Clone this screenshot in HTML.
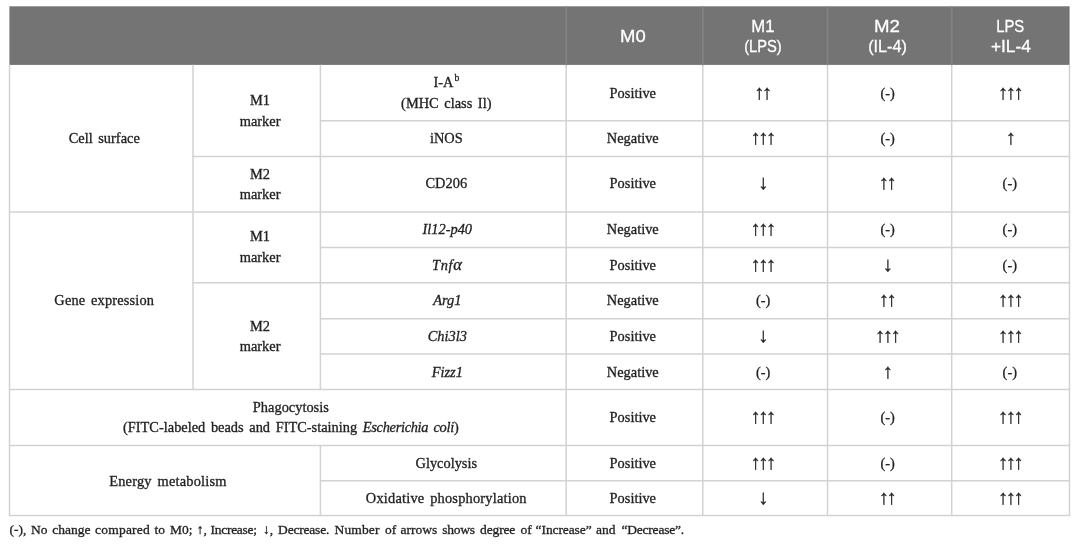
<!DOCTYPE html>
<html><head><meta charset="utf-8"><title>Table</title>
<style>
html,body{margin:0;padding:0;background:#fff}
body{width:1080px;height:547px;position:relative;overflow:hidden;font-family:"Liberation Serif","DejaVu Serif",serif;color:#222;font-size:14.4px;line-height:20.5px;word-spacing:2px;-webkit-text-stroke:0.3px #222}
.c{position:absolute;text-align:center;white-space:nowrap}
.h{font-family:"Liberation Sans","DejaVu Sans",sans-serif;color:#fff;font-size:17.2px;word-spacing:0;-webkit-text-stroke:0.3px #fff}
.h em{font-style:normal;display:inline-block}
.a{font-size:20.5px;letter-spacing:-2.5px}
i.e{letter-spacing:-0.3px}
.g{position:absolute;left:0;top:0}
sup{font-size:9.6px;line-height:0;vertical-align:baseline;position:relative;top:-6.1px;margin-left:1px}
.f{position:absolute;left:0;top:522px;width:1080px;height:16px;font-size:13.5px;line-height:16px;white-space:nowrap;word-spacing:0}
.f span{position:absolute;top:0}
</style></head><body>
<svg class="g" width="1080" height="547" viewBox="0 0 1080 547"><rect x="9.4" y="6.3" width="1060.2" height="58.6" fill="#747474"/></svg>
<div class="c h" style="left:564.7px;top:26.10px;width:136.6px;line-height:20px"><em style="transform:scaleX(1.075)">M0</em></div>
<div class="c h" style="left:700.3px;top:16.10px;width:124.7px;line-height:20px"><em style="transform:scaleX(0.97)">M1</em><br><em style="transform:scaleX(0.855)">(LPS)</em></div>
<div class="c h" style="left:825.0px;top:16.10px;width:124.2px;line-height:20px"><em style="transform:scaleX(1.085)">M2</em><br><em style="transform:scaleX(0.94)">(IL-4)</em></div>
<div class="c h" style="left:951.7px;top:16.10px;width:117.8px;line-height:20px"><em style="transform:scaleX(0.862)">LPS</em><br><em style="transform:scaleX(1.005)">+IL-4</em></div>
<div class="c" style="left:12.5px;top:127.85px;width:183.5px;line-height:20.5px;">Cell surface</div>
<div class="c" style="left:196.4px;top:89.60px;width:127.4px;line-height:21px;">M1<br>marker</div>
<div class="c" style="left:196.4px;top:164.10px;width:127.4px;line-height:20px;">M2<br>marker</div>
<div class="c" style="left:12.5px;top:289.85px;width:183.5px;line-height:20.5px;letter-spacing:0.15px">Gene expression</div>
<div class="c" style="left:196.4px;top:225.60px;width:127.4px;line-height:21px;">M1<br>marker</div>
<div class="c" style="left:196.4px;top:316.10px;width:127.4px;line-height:20px;">M2<br>marker</div>
<div class="c" style="left:12.5px;top:397.10px;width:556.7px;line-height:20px;">Phagocytosis<br>(FITC-labeled beads and FITC-staining <i class="e">Escherichia coli</i>)</div>
<div class="c" style="left:12.5px;top:470.85px;width:310.9px;line-height:20.5px;letter-spacing:0.2px">Energy metabolism</div>
<div class="c" style="left:323.4px;top:71.60px;width:245.8px;line-height:21px;">I-A<sup>b</sup><br>(MHC class Il)</div>
<div class="c" style="left:564.5px;top:82.85px;width:136.6px;line-height:20.5px;">Positive</div>
<div class="c a" style="left:699.5px;top:81.85px;width:124.7px;line-height:20.5px;">↑↑</div>
<div class="c" style="left:825.5px;top:82.85px;width:124.2px;line-height:20.5px;">(-)</div>
<div class="c a" style="left:950.5px;top:81.85px;width:117.8px;line-height:20.5px;">↑↑↑</div>
<div class="c" style="left:323.4px;top:127.85px;width:245.8px;line-height:20.5px;">iNOS</div>
<div class="c" style="left:564.5px;top:127.85px;width:136.6px;line-height:20.5px;">Negative</div>
<div class="c a" style="left:699.5px;top:126.85px;width:124.7px;line-height:20.5px;">↑↑↑</div>
<div class="c" style="left:825.5px;top:127.85px;width:124.2px;line-height:20.5px;">(-)</div>
<div class="c a" style="left:950.5px;top:126.85px;width:117.8px;line-height:20.5px;">↑</div>
<div class="c" style="left:323.4px;top:172.85px;width:245.8px;line-height:20.5px;">CD206</div>
<div class="c" style="left:564.5px;top:172.85px;width:136.6px;line-height:20.5px;">Positive</div>
<div class="c a" style="left:699.5px;top:171.85px;width:124.7px;line-height:20.5px;">↓</div>
<div class="c a" style="left:824.2px;top:171.85px;width:124.2px;line-height:20.5px;">↑↑</div>
<div class="c" style="left:950.9px;top:172.85px;width:117.8px;line-height:20.5px;">(-)</div>
<div class="c" style="left:324.4px;top:218.85px;width:245.8px;line-height:20.5px;"><i>Il12-p40</i></div>
<div class="c" style="left:564.5px;top:218.85px;width:136.6px;line-height:20.5px;">Negative</div>
<div class="c a" style="left:699.5px;top:217.85px;width:124.7px;line-height:20.5px;">↑↑↑</div>
<div class="c" style="left:825.5px;top:218.85px;width:124.2px;line-height:20.5px;">(-)</div>
<div class="c" style="left:950.9px;top:218.85px;width:117.8px;line-height:20.5px;">(-)</div>
<div class="c" style="left:324.4px;top:254.85px;width:245.8px;line-height:20.5px;"><i style="letter-spacing:0.7px">Tnf<span style="font-size:16.5px;line-height:0">α</span></i></div>
<div class="c" style="left:564.5px;top:254.85px;width:136.6px;line-height:20.5px;">Positive</div>
<div class="c a" style="left:699.5px;top:253.85px;width:124.7px;line-height:20.5px;">↑↑↑</div>
<div class="c a" style="left:824.2px;top:253.85px;width:124.2px;line-height:20.5px;">↓</div>
<div class="c" style="left:950.9px;top:254.85px;width:117.8px;line-height:20.5px;">(-)</div>
<div class="c" style="left:324.4px;top:289.85px;width:245.8px;line-height:20.5px;"><i>Arg1</i></div>
<div class="c" style="left:564.5px;top:289.85px;width:136.6px;line-height:20.5px;">Negative</div>
<div class="c" style="left:700.8px;top:289.85px;width:124.7px;line-height:20.5px;">(-)</div>
<div class="c a" style="left:824.2px;top:288.85px;width:124.2px;line-height:20.5px;">↑↑</div>
<div class="c a" style="left:950.5px;top:288.85px;width:117.8px;line-height:20.5px;">↑↑↑</div>
<div class="c" style="left:324.4px;top:325.85px;width:245.8px;line-height:20.5px;"><i>Chi3l3</i></div>
<div class="c" style="left:564.5px;top:325.85px;width:136.6px;line-height:20.5px;">Positive</div>
<div class="c a" style="left:699.5px;top:324.85px;width:124.7px;line-height:20.5px;">↓</div>
<div class="c a" style="left:824.2px;top:324.85px;width:124.2px;line-height:20.5px;">↑↑↑</div>
<div class="c a" style="left:950.5px;top:324.85px;width:117.8px;line-height:20.5px;">↑↑↑</div>
<div class="c" style="left:324.4px;top:361.85px;width:245.8px;line-height:20.5px;"><i>Fizz1</i></div>
<div class="c" style="left:564.5px;top:361.85px;width:136.6px;line-height:20.5px;">Negative</div>
<div class="c" style="left:700.8px;top:361.85px;width:124.7px;line-height:20.5px;">(-)</div>
<div class="c a" style="left:824.2px;top:360.85px;width:124.2px;line-height:20.5px;">↑</div>
<div class="c" style="left:950.9px;top:361.85px;width:117.8px;line-height:20.5px;">(-)</div>
<div class="c" style="left:564.5px;top:406.85px;width:136.6px;line-height:20.5px;">Positive</div>
<div class="c a" style="left:699.5px;top:405.85px;width:124.7px;line-height:20.5px;">↑↑↑</div>
<div class="c" style="left:825.5px;top:406.85px;width:124.2px;line-height:20.5px;">(-)</div>
<div class="c a" style="left:950.5px;top:405.85px;width:117.8px;line-height:20.5px;">↑↑↑</div>
<div class="c" style="left:323.4px;top:452.85px;width:245.8px;line-height:20.5px;">Glycolysis</div>
<div class="c" style="left:564.5px;top:452.85px;width:136.6px;line-height:20.5px;">Positive</div>
<div class="c a" style="left:699.5px;top:451.85px;width:124.7px;line-height:20.5px;">↑↑↑</div>
<div class="c" style="left:825.5px;top:452.85px;width:124.2px;line-height:20.5px;">(-)</div>
<div class="c a" style="left:950.5px;top:451.85px;width:117.8px;line-height:20.5px;">↑↑↑</div>
<div class="c" style="left:323.4px;top:487.85px;width:245.8px;line-height:20.5px;letter-spacing:0.2px">Oxidative phosphorylation</div>
<div class="c" style="left:564.5px;top:487.85px;width:136.6px;line-height:20.5px;">Positive</div>
<div class="c a" style="left:699.5px;top:486.85px;width:124.7px;line-height:20.5px;">↓</div>
<div class="c a" style="left:824.2px;top:486.85px;width:124.2px;line-height:20.5px;">↑↑</div>
<div class="c a" style="left:950.5px;top:486.85px;width:117.8px;line-height:20.5px;">↑↑↑</div>
<svg class="g" width="1080" height="547" viewBox="0 0 1080 547" stroke-width="1.5">
<line x1="319.9" y1="120.7" x2="1070.0" y2="120.7" stroke="#d2d2d2"/>
<line x1="192.5" y1="156.4" x2="1070.0" y2="156.4" stroke="#d2d2d2"/>
<line x1="9.0" y1="212.0" x2="1070.0" y2="212.0" stroke="#d2d2d2"/>
<line x1="319.9" y1="247.4" x2="1070.0" y2="247.4" stroke="#d2d2d2"/>
<line x1="192.5" y1="282.7" x2="1070.0" y2="282.7" stroke="#d2d2d2"/>
<line x1="319.9" y1="318.7" x2="1070.0" y2="318.7" stroke="#d2d2d2"/>
<line x1="319.9" y1="354.1" x2="1070.0" y2="354.1" stroke="#d2d2d2"/>
<line x1="9.0" y1="389.6" x2="1070.0" y2="389.6" stroke="#d2d2d2"/>
<line x1="9.0" y1="445.4" x2="1070.0" y2="445.4" stroke="#d2d2d2"/>
<line x1="319.9" y1="480.7" x2="1070.0" y2="480.7" stroke="#d2d2d2"/>
<line x1="9.0" y1="515.6" x2="1070.0" y2="515.6" stroke="#d2d2d2"/>
<line x1="9.5" y1="64.7" x2="9.5" y2="516.1" stroke="#d2d2d2"/>
<line x1="1069.5" y1="64.7" x2="1069.5" y2="516.1" stroke="#d2d2d2"/>
<line x1="193.0" y1="64.7" x2="193.0" y2="390.1" stroke="#d2d2d2"/>
<line x1="320.4" y1="64.7" x2="320.4" y2="390.1" stroke="#d2d2d2"/>
<line x1="320.4" y1="445.4" x2="320.4" y2="516.1" stroke="#d2d2d2"/>
<line x1="566.2" y1="64.7" x2="566.2" y2="516.1" stroke="#d2d2d2"/>
<line x1="702.8" y1="64.7" x2="702.8" y2="516.1" stroke="#d2d2d2"/>
<line x1="827.5" y1="64.7" x2="827.5" y2="516.1" stroke="#d2d2d2"/>
<line x1="951.7" y1="64.7" x2="951.7" y2="516.1" stroke="#d2d2d2"/>
<line x1="566.2" y1="6.3" x2="566.2" y2="65.2" stroke="#848484"/>
<line x1="702.8" y1="6.3" x2="702.8" y2="65.2" stroke="#848484"/>
<line x1="827.5" y1="6.3" x2="827.5" y2="65.2" stroke="#848484"/>
<line x1="951.7" y1="6.3" x2="951.7" y2="65.2" stroke="#848484"/>
</svg>
<div class="f"><span style="left:9.5px">(-),</span> <span style="left:31.1px">No</span> <span style="left:52.3px">change</span> <span style="left:95.1px;letter-spacing:0.2px">compared</span> <span style="left:154.5px">to</span> <span style="left:170.1px">M0;</span> <span style="left:196.8px">↑,</span> <span style="left:210.6px;letter-spacing:-0.3px">Increase;</span> <span style="left:263.1px">↓,</span> <span style="left:278.1px;letter-spacing:-0.2px">Decrease.</span> <span style="left:334.5px;letter-spacing:0.15px">Number</span> <span style="left:385.1px">of</span> <span style="left:400.6px">arrows</span> <span style="left:442.3px;letter-spacing:-0.25px">shows</span> <span style="left:480.1px;letter-spacing:-0.15px">degree</span> <span style="left:520.6px">of</span> <span style="left:535.6px;letter-spacing:-0.1px">“Increase”</span> <span style="left:596.1px">and</span> <span style="left:621.4px;letter-spacing:-0.2px">“Decrease”.</span></div>
</body></html>
